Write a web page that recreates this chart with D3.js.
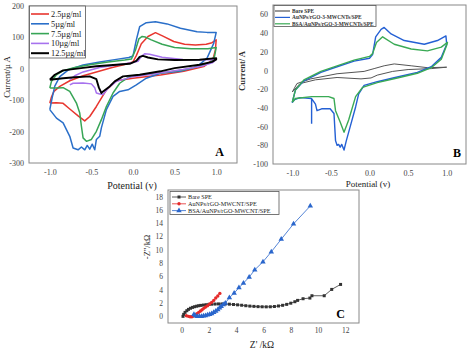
<!DOCTYPE html>
<html><head><meta charset="utf-8">
<script src="https://cdn.jsdelivr.net/npm/d3@7"></script>
<style>body{margin:0;background:#fff}svg{display:block}</style>
</head><body><svg id="c" width="474" height="355" font-family="Liberation Serif, DejaVu Serif, serif"></svg>
<script>
// ---------- Panel A data (Potential V, Current µA) ----------
const legendA = ["2.5µg/ml","5µg/ml","7.5µg/ml","10µg/ml","12.5µg/ml"];
const cvA_2_5 = [[-1.0,-109],[-0.98,-90],[-0.95,-72],[-0.88,-56],[-0.76,-38],[-0.6,-22],[-0.44,-10],[-0.25,4],[-0.1,14],[0.0,22],[0.04,42],[0.1,80],[0.18,103],[0.27,115],[0.36,104],[0.49,87],[0.62,78],[0.75,76],[0.88,78],[0.95,83],[1.0,92],
 [0.99,60],[0.96,29],[0.85,7],[0.61,-8],[0.33,-20],[0.0,-30],[-0.2,-38],[-0.32,-67],[-0.44,-120],[-0.52,-152],[-0.58,-166],[-0.66,-150],[-0.76,-128],[-0.84,-110],[-0.92,-108],[-1.0,-109]];
const cvA_5 = [[-1.0,-130],[-0.97,-90],[-0.94,-55],[-0.88,-25],[-0.78,-4],[-0.6,12],[-0.4,22],[-0.2,30],[-0.05,36],[0.0,41],[0.04,92],[0.08,134],[0.16,147],[0.27,150],[0.41,143],[0.57,129],[0.77,118],[0.89,116],[1.0,116],
 [0.97,81],[0.89,34],[0.77,7],[0.57,-8],[0.33,-14],[0.16,-30],[0.04,-51],[-0.06,-67],[-0.16,-72],[-0.24,-88],[-0.32,-130],[-0.38,-188],[-0.4,-215],[-0.44,-225],[-0.46,-258],[-0.49,-240],[-0.52,-256],[-0.55,-244],[-0.58,-258],[-0.62,-249],[-0.66,-258],[-0.72,-252],[-0.76,-215],[-0.84,-172],[-0.92,-157],[-1.0,-130]];
const cvA_7_5 = [[-1.0,-61],[-0.98,-40],[-0.92,-19],[-0.84,-6],[-0.7,4],[-0.5,14],[-0.3,22],[-0.1,28],[-0.02,31],[0.03,60],[0.07,95],[0.11,103],[0.15,101],[0.22,92],[0.35,78],[0.5,68],[0.7,64],[0.9,64],[1.0,68],
 [0.98,40],[0.93,20],[0.8,8],[0.6,-4],[0.3,-14],[0.0,-22],[-0.04,-24],[-0.16,-46],[-0.24,-77],[-0.32,-120],[-0.38,-162],[-0.44,-199],[-0.5,-225],[-0.56,-231],[-0.6,-220],[-0.62,-183],[-0.64,-141],[-0.68,-109],[-0.76,-72],[-0.84,-60],[-0.92,-61],[-1.0,-61]];
const cvA_10 = [[-0.76,-35],[-0.7,-22],[-0.6,-10],[-0.4,4],[-0.2,12],[0.0,20],[0.06,24],[0.1,40],[0.14,48],[0.2,46],[0.35,37],[0.6,30],[0.85,29],[1.0,30],
 [0.96,20],[0.85,10],[0.6,-2],[0.3,-14],[0.0,-25],[-0.2,-40],[-0.3,-62],[-0.36,-82],[-0.4,-80],[-0.44,-77],[-0.46,-60],[-0.5,-48],[-0.6,-45],[-0.72,-46],[-0.76,-51]];
const cvA_12_5 = [[-1.0,-35],[-0.94,-19],[-0.84,-5],[-0.6,3],[-0.44,8],[-0.2,13],[-0.04,16],[0.04,25],[0.08,38],[0.12,41],[0.18,36],[0.3,30],[0.5,28],[0.8,29],[1.0,34],
 [1.0,30],[0.95,22],[0.8,13],[0.5,2],[0.33,-8],[0.08,-19],[-0.12,-24],[-0.22,-40],[-0.28,-56],[-0.36,-72],[-0.38,-77],[-0.41,-60],[-0.44,-33],[-0.52,-24],[-0.7,-27],[-0.84,-30],[-1.0,-35]];
const seriesA = [cvA_2_5, cvA_5, cvA_7_5, cvA_10, cvA_12_5];
const ticksAx = [-1.0,-0.5,0.0,0.5,1.0];
const ticksAy = [-300,-200,-100,0,100,200];

// ---------- Panel B data ----------
const legendB = ["Bare SPE","AuNPs/rGO-3-MWCNTs/SPE","BSA/AuNPs/rGO-3-MWCNTs/SPE"];
const cvB_bare = [[-1.0,-23],[-0.94,-14],[-0.76,-9],[-0.42,-3.5],[-0.07,-1],[0.06,2],[0.19,5],[0.32,7],[0.54,5],[0.75,3],[1.0,3.5],
 [0.8,2],[0.5,1],[0.3,-1],[0.1,-5],[0.02,-8],[-0.11,-9],[-0.42,-7.5],[-0.7,-10],[-0.9,-14],[-1.0,-23]];
const cvB_au = [[-0.75,-30],[-0.9,-29],[-0.97,-31],[-1.0,-34],[-0.96,-21],[-0.85,-11],[-0.63,-2],[-0.42,4],[-0.2,10],[0.0,13],[0.04,17],[0.08,36],[0.15,44],[0.19,46],[0.28,39],[0.45,32],[0.71,28],[0.88,32],[0.99,37],
 [1.0,28],[0.93,14],[0.8,4],[0.62,-2],[0.36,-7],[0.1,-12],[-0.07,-16],[-0.14,-25],[-0.18,-39],[-0.25,-60],[-0.3,-75],[-0.33,-85],[-0.36,-79],[-0.38,-82],[-0.4,-79],[-0.42,-80],[-0.44,-75],[-0.46,-46],[-0.51,-41],[-0.62,-41],[-0.68,-43],[-0.7,-36],[-0.75,-30],[-0.75,-57]];
const cvB_bsa = [[-1.0,-34],[-0.96,-21],[-0.85,-10],[-0.63,-1],[-0.42,5],[-0.2,11],[0.0,15],[0.04,18],[0.09,30],[0.17,36],[0.32,28],[0.54,23],[0.75,21],[0.93,25],[1.01,30],
 [1.0,27],[0.93,12],[0.8,3],[0.62,-3],[0.36,-8],[0.1,-13],[-0.09,-18],[-0.18,-28],[-0.27,-53],[-0.33,-66],[-0.38,-55],[-0.44,-43],[-0.46,-30],[-0.53,-28],[-0.75,-28],[-0.96,-30],[-1.0,-34]];
const seriesB = [cvB_bare, cvB_au, cvB_bsa];
const ticksBx = [-1.0,-0.5,0.0,0.5,1.0];
const ticksBy = [-100,-80,-60,-40,-20,0,20,40,60];

// ---------- Panel C data (Z' kΩ, -Z'' kΩ) ----------
const legendC = ["Bare SPE","AuNPs/rGO-MWCNT/SPE","BSA/AuNPs/rGO-MWCNT/SPE"];
const eisBare = [[0.1,0.0],[0.15,0.3],[0.25,0.6],[0.38,0.85],[0.5,1.05],[0.65,1.22],[0.8,1.35],[0.95,1.45],[1.1,1.53],[1.25,1.6],[1.4,1.65],[1.6,1.7],[1.8,1.75],[2.0,1.8],[2.2,1.83],[2.45,1.85],[2.7,1.87],[2.95,1.87],[3.2,1.86],[3.5,1.83],[3.8,1.78],[4.1,1.73],[4.4,1.67],[4.7,1.6],[5.0,1.54],[5.3,1.5],[5.6,1.46],[5.9,1.44],[6.2,1.43],[6.5,1.44],[6.8,1.48],[7.1,1.56],[7.4,1.66],[7.7,1.8],[8.0,1.98],[8.3,2.2],[8.5,2.4],[8.9,2.65],[9.4,2.75],[9.55,3.1],[10.45,3.1],[11.0,4.05],[11.65,4.8]];
const eisAu = [[0.35,0.1],[0.5,0.0],[0.62,-0.05],[0.75,-0.05],[0.88,0.05],[1.0,0.2],[1.12,0.4],[1.25,0.6],[1.38,0.8],[1.5,1.0],[1.62,1.2],[1.75,1.4],[1.9,1.6],[2.05,1.85],[2.2,2.1],[2.35,2.4],[2.5,2.75],[2.65,3.05],[2.8,3.45]];
const eisBsa = [[0.9,0.3],[1.0,0.1],[1.15,0.0],[1.3,-0.02],[1.45,0.0],[1.6,0.05],[1.75,0.12],[1.9,0.2],[2.05,0.3],[2.2,0.42],[2.35,0.58],[2.5,0.78],[2.65,1.0],[2.78,1.25],[2.9,1.5],[3.05,1.75],[3.2,2.0],[3.5,2.8],[3.85,3.5],[4.2,4.3],[4.53,5.0],[4.95,5.9],[5.36,7.0],[5.96,8.2],[6.57,9.7],[7.3,11.6],[8.2,13.9],[9.43,16.6]];
const ticksCx = [0,2,4,6,8,10,12];
const ticksCy = [0,2,4,6,8,10,12,14,16,18];

// ---------- drawing ----------
const FONT = "Liberation Serif, DejaVu Serif, serif";
const svg = d3.select("#c");
const tickColor = "#444";
function styleAxis(g, size){
  g.select(".domain").remove();
  g.attr("font-family", FONT);
  g.selectAll("text").attr("font-size", size).attr("fill", tickColor).attr("font-family", FONT);
}
function frame(x, y, col){
  const [x0,x1] = x.range(), [y0,y1] = y.range();
  svg.append("rect").attr("x",x0).attr("y",y1).attr("width",x1-x0).attr("height",y0-y1)
    .attr("fill","none").attr("stroke",col).attr("stroke-width",1);
}
function label(x, y, txt, size, opts={}){
  const t = svg.append("text").attr("font-family",FONT).attr("font-size",size)
    .attr("fill",opts.fill||"#222").attr("text-anchor",opts.anchor||"middle").text(txt);
  if (opts.rotate) t.attr("transform",`translate(${x},${y}) rotate(-90)`);
  else t.attr("x",x).attr("y",y);
  if (opts.bold) t.attr("font-weight","bold");
  return t;
}

// Panel A
{
  const x = d3.scaleLinear().domain([-1.25,1.25]).range([29,237]);
  const y = d3.scaleLinear().domain([-300,200]).range([163,6]);
  const cols = ["#e8362f","#2a6fc9","#37a556","#a772ee","#000"];
  svg.append("g").attr("transform","translate(29,0)")
    .call(d3.axisLeft(y).tickValues(ticksAy).tickSize(0).tickPadding(5).tickFormat(d=>String(d)))
    .call(g=>styleAxis(g,8));
  svg.append("g").attr("transform","translate(0,163)")
    .call(d3.axisBottom(x).tickValues(ticksAx).tickSize(0).tickPadding(6).tickFormat(d=>d.toFixed(1)))
    .call(g=>styleAxis(g,8));
  const line = d3.line().x(d=>x(d[0])).y(d=>y(d[1]));
  seriesA.forEach((s,i)=>{
    svg.append("path").attr("d",line(s)).attr("fill","none").attr("stroke",cols[i])
      .attr("stroke-width", i===4?1.9:1.5).attr("stroke-linejoin","round");
  });
  frame(x,y,"#888");
  const lg = svg.append("g");
  lg.append("rect").attr("x",29.5).attr("y",6).attr("width",56).attr("height",52).attr("fill","#fff").attr("stroke","#555").attr("stroke-width",0.8);
  legendA.forEach((t,i)=>{
    const yy = 14 + i*9.8;
    lg.append("line").attr("x1",31).attr("x2",49).attr("y1",yy).attr("y2",yy).attr("stroke",cols[i]).attr("stroke-width",i===4?2:1.6);
    lg.append("text").attr("x",51).attr("y",yy+3).attr("font-family",FONT).attr("font-size",8.3).attr("fill","#222").text(t);
  });
  label(132,189,"Potential (v)",10);
  label(10,77,"Current/µ A",8.6,{rotate:true});
  label(224,156,"A",12,{anchor:"end",bold:true,fill:"#000"});
}

// Panel B
{
  const x = d3.scaleLinear().domain([-1.25,1.25]).range([273,466]);
  const y = d3.scaleLinear().domain([-100,70]).range([164,5]);
  const cols = ["#555","#2460d4","#3aaa55"];
  svg.append("g").attr("transform","translate(273,0)")
    .call(d3.axisLeft(y).tickValues(ticksBy).tickSize(0).tickPadding(5).tickFormat(d=>String(d)))
    .call(g=>styleAxis(g,8));
  svg.append("g").attr("transform","translate(0,164)")
    .call(d3.axisBottom(x).tickValues(ticksBx).tickSize(0).tickPadding(6).tickFormat(d=>d.toFixed(1)))
    .call(g=>styleAxis(g,8));
  const line = d3.line().x(d=>x(d[0])).y(d=>y(d[1]));
  seriesB.forEach((s,i)=>{
    svg.append("path").attr("d",line(s)).attr("fill","none").attr("stroke",cols[i])
      .attr("stroke-width", i===0?1:1.4).attr("stroke-linejoin","round");
  });
  frame(x,y,"#888");
  const lg = svg.append("g");
  lg.append("rect").attr("x",274).attr("y",5.5).attr("width",102).attr("height",21).attr("fill","#fff").attr("stroke","#555").attr("stroke-width",0.8);
  legendB.forEach((t,i)=>{
    const yy = 11 + i*6.4;
    lg.append("line").attr("x1",275).attr("x2",290).attr("y1",yy).attr("y2",yy).attr("stroke",cols[i]).attr("stroke-width",1.2);
    lg.append("text").attr("x",292).attr("y",yy+2).attr("font-family",FONT).attr("font-size",5.4).attr("font-weight","bold").attr("fill","#333").text(t);
  });
  label(368,187,"Potential (v)",9);
  label(245,71,"Current/ A",8.5,{rotate:true,bold:true,fill:"#333"});
  label(461,157,"B",12,{anchor:"end",bold:true,fill:"#000"});
}

// Panel C
{
  const x = d3.scaleLinear().domain([-1,13]).range([168,359]);
  const y = d3.scaleLinear().domain([-1,19]).range([323,190]);
  svg.append("g").attr("transform","translate(168,0)")
    .call(d3.axisLeft(y).tickValues(ticksCy).tickSize(0).tickPadding(5).tickFormat(d=>String(d)))
    .call(g=>styleAxis(g,7.5));
  svg.append("g").attr("transform","translate(0,323)")
    .call(d3.axisBottom(x).tickValues(ticksCx).tickSize(0).tickPadding(5).tickFormat(d=>String(d)))
    .call(g=>styleAxis(g,7.5));
  const line = d3.line().x(d=>x(d[0])).y(d=>y(d[1]));
  const sets = [
    {d:eisBare, c:"#333", m:"square"},
    {d:eisAu, c:"#e52a2a", m:"circle"},
    {d:eisBsa, c:"#2a66cc", m:"triangle"}
  ];
  const sym = {square:d3.symbolSquare, circle:d3.symbolCircle, triangle:d3.symbolTriangle};
  const sizes = {square:9, circle:9, triangle:13};
  sets.forEach(s=>{
    svg.append("path").attr("d",line(s.d)).attr("fill","none").attr("stroke",s.c).attr("stroke-width",0.8);
    svg.append("g").selectAll("path").data(s.d).join("path")
      .attr("transform",d=>`translate(${x(d[0])},${y(d[1])})`)
      .attr("d",d3.symbol().type(sym[s.m]).size(sizes[s.m])).attr("fill",s.c);
  });
  frame(x,y,"#888");
  const lg = svg.append("g");
  lg.append("rect").attr("x",170).attr("y",191.5).attr("width",109).attr("height",23).attr("fill","#fff").attr("stroke","#555").attr("stroke-width",0.8);
  legendC.forEach((t,i)=>{
    const yy = 197 + i*6.8;
    lg.append("line").attr("x1",172).attr("x2",186).attr("y1",yy).attr("y2",yy).attr("stroke",sets[i].c).attr("stroke-width",0.8);
    lg.append("path").attr("transform",`translate(179,${yy})`).attr("d",d3.symbol().type(sym[sets[i].m]).size(sizes[sets[i].m])).attr("fill",sets[i].c);
    lg.append("text").attr("x",188).attr("y",yy+2).attr("font-family",FONT).attr("font-size",6.2).attr("fill","#222").text(t);
  });
  label(262,348,"Z' /kΩ",9.5);
  label(150,247,"-Z\"/kΩ",8.5,{rotate:true});
  label(345,318,"C",12,{anchor:"end",bold:true,fill:"#000"});
}
</script></body></html>
